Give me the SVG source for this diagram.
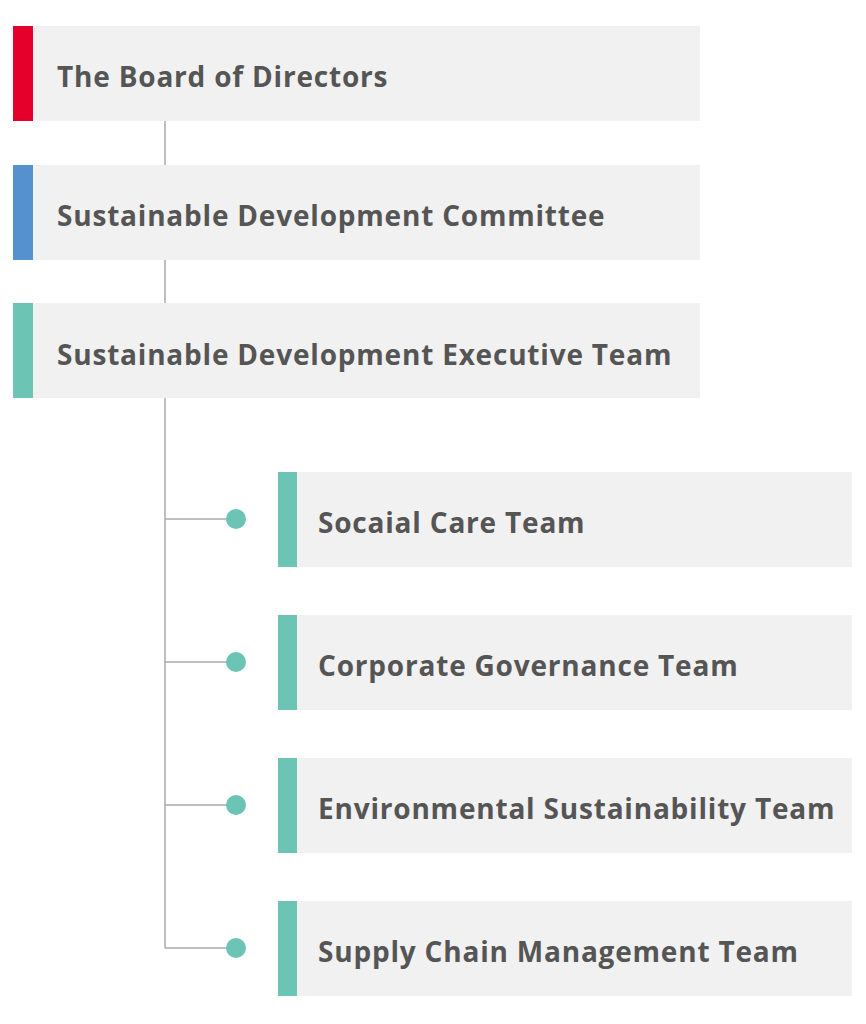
<svg xmlns="http://www.w3.org/2000/svg" width="866" height="1024" viewBox="0 0 866 1024">
<style>
.bg{fill:#f1f1f1}
.t{font-family:"Open Sans","Noto Sans","Liberation Sans",sans-serif;font-weight:700;font-size:28px;letter-spacing:0.8px;fill:#555555}
.ln{stroke:#aaaaaa;stroke-width:1.5;fill:none}
.dot{fill:#6cc4b4}
.teal{fill:#6cc4b4}
</style>
<rect width="866" height="1024" fill="#ffffff"/>
<g id="connectors">
<path class="ln" d="M165 121V165M165 260V303M165 398V948M165 519H236M165 662H236M165 805H236M165 948H236"/>
<circle class="dot" cx="236" cy="519" r="10"/>
<circle class="dot" cx="236" cy="662" r="10"/>
<circle class="dot" cx="236" cy="805" r="10"/>
<circle class="dot" cx="236" cy="948" r="10"/>
</g>
<g id="board">
<rect class="bg" x="13" y="26" width="687" height="95"/>
<rect x="13" y="26" width="20" height="95" fill="#e4002b"/>
<text class="t" x="57" y="87">The Board of Directors</text>
</g>
<g id="committee">
<rect class="bg" x="13" y="165" width="687" height="95"/>
<rect x="13" y="165" width="20" height="95" fill="#5691cf"/>
<text class="t" x="57" y="226">Sustainable Development Committee</text>
</g>
<g id="executive">
<rect class="bg" x="13" y="303" width="687" height="95"/>
<rect class="teal" x="13" y="303" width="20" height="95"/>
<text class="t" x="57" y="365">Sustainable Development Executive Team</text>
</g>
<g id="social">
<rect class="bg" x="278" y="472" width="574" height="95"/>
<rect class="teal" x="278" y="472" width="19" height="95"/>
<text class="t" x="318" y="533">Socaial Care Team</text>
</g>
<g id="governance">
<rect class="bg" x="278" y="615" width="574" height="95"/>
<rect class="teal" x="278" y="615" width="19" height="95"/>
<text class="t" x="318" y="676">Corporate Governance Team</text>
</g>
<g id="environmental">
<rect class="bg" x="278" y="758" width="574" height="95"/>
<rect class="teal" x="278" y="758" width="19" height="95"/>
<text class="t" x="318" y="819">Environmental Sustainability Team</text>
</g>
<g id="supply">
<rect class="bg" x="278" y="901" width="574" height="95"/>
<rect class="teal" x="278" y="901" width="19" height="95"/>
<text class="t" x="318" y="962">Supply Chain Management Team</text>
</g>
</svg>
